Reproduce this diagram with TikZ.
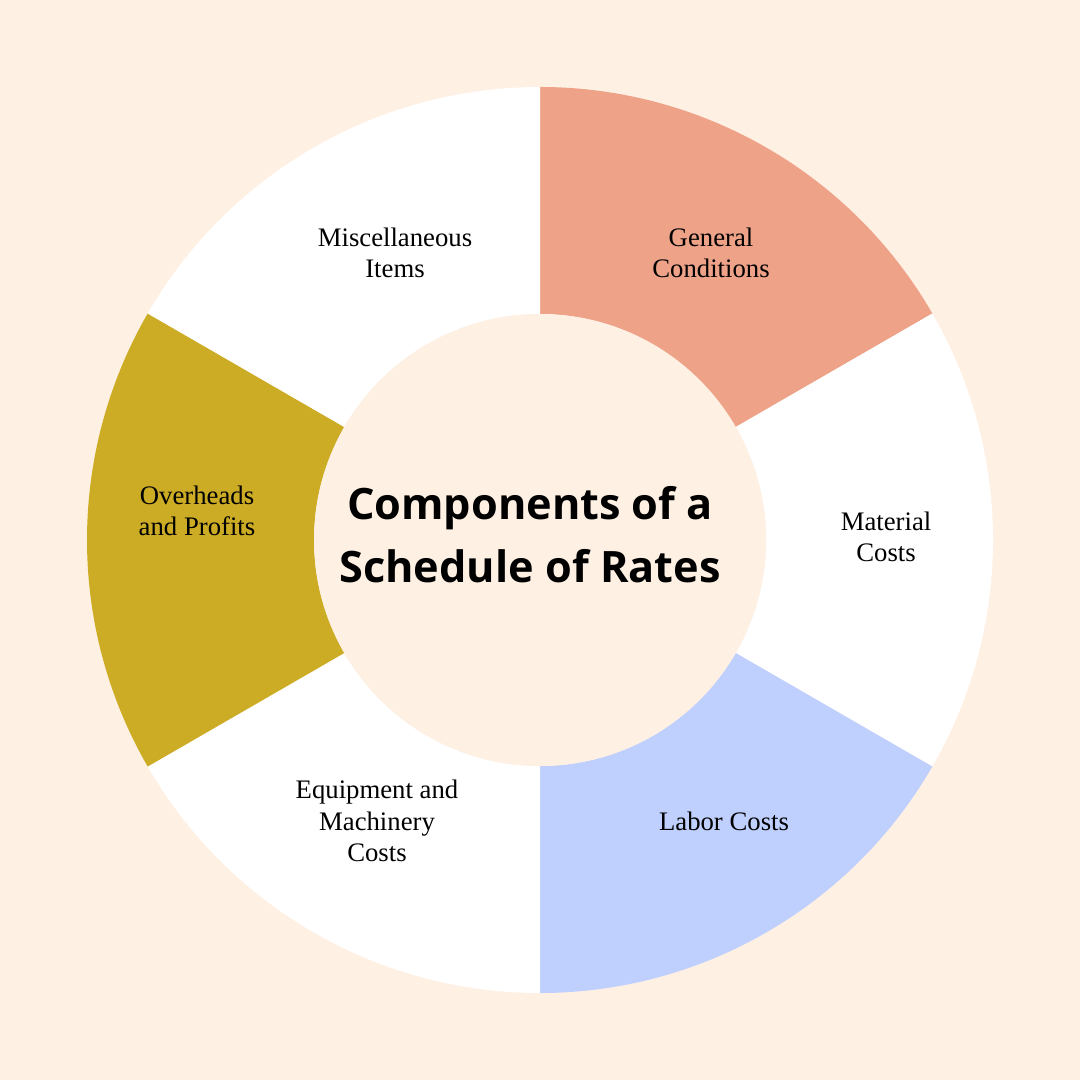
\documentclass[tikz,border=0pt]{standalone}
\usepackage{fontspec}
\setmainfont{Liberation Serif}
\newfontfamily\titlefont{Open Sans}
\definecolor{bg}{HTML}{FEF0E3}
\definecolor{salmon}{HTML}{EEA288}
\definecolor{lblue}{HTML}{C0D0FE}
\definecolor{gold}{HTML}{CDAC25}
\begin{document}
\begin{tikzpicture}[x=0.01cm,y=-0.01cm,
  lbl/.style={align=center,font=\fontsize{7.6}{9}\selectfont,text=black}]
\fill[bg] (0,0) rectangle (1080,1080);
\useasboundingbox (0,0) rectangle (1080,1080);
\def\R{453}\def\r{226}
\foreach \a/\c in {-90/salmon,-30/white,30/lblue,90/white,150/gold,210/white}{
  \fill[\c] (540,540) ++(\a:\R) arc[start angle=\a,end angle=\a+60,radius=\R]
     -- ++(\a+60+180:{\R-\r}) arc[start angle=\a+60,end angle=\a,radius=\r] -- cycle;
}
\fill[bg] (540,540) circle (\r);
\node[lbl] (misc) at (395,253) {Miscellaneous\\Items};
\node[lbl] (gen) at (711,253) {General\\Conditions};
\node[lbl] (mat) at (886,537) {Material\\Costs};
\node[lbl] (lab) at (724,821) {Labor Costs};
\node[lbl] (equ) at (377,821) {Equipment and\\Machinery\\Costs};
\node[lbl] (ovh) at (197,511) {Overheads\\and Profits};
\node[align=center,font=\titlefont\bfseries\fontsize{12.3}{18}\selectfont] (title) at (530,535) {Components of a\\Schedule of Rates};
\end{tikzpicture}
\end{document}
